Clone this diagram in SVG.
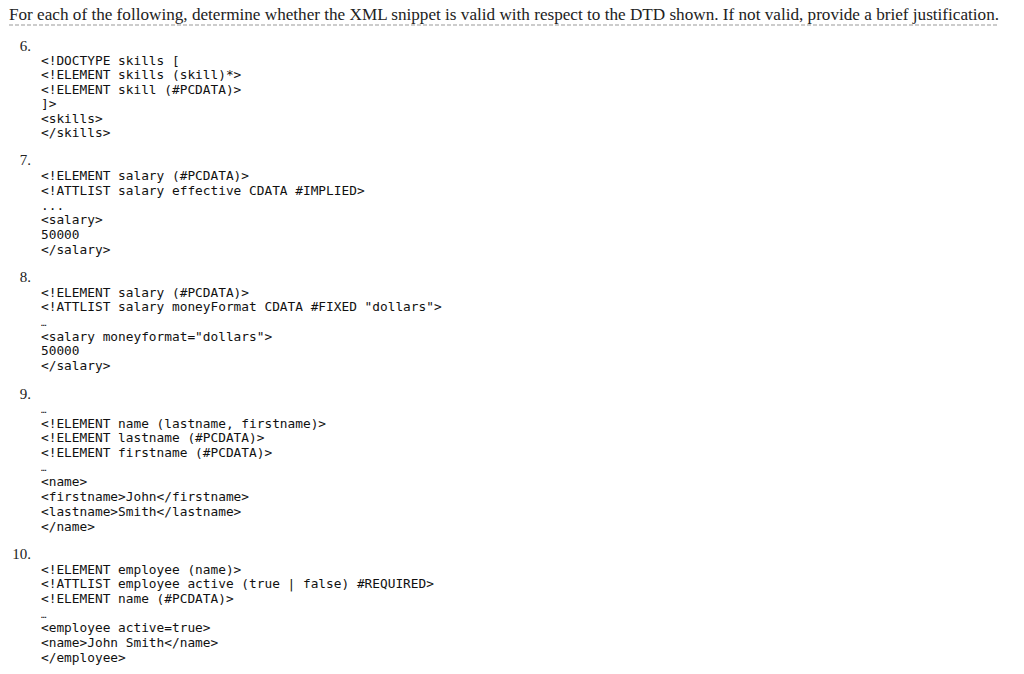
<svg xmlns="http://www.w3.org/2000/svg" width="1024" height="674" viewBox="0 0 1024 674">
<style>
.t{font-family:"Liberation Serif","DejaVu Serif",serif;font-size:16px;fill:#222}
.n{font-family:"Liberation Serif","DejaVu Serif",serif;font-size:15px;fill:#222;text-anchor:end}
.c{font-family:"DejaVu Sans Mono",monospace;font-size:12.8px;fill:#111}
</style>
<rect width="1024" height="674" fill="#fff"/>
<text class="t" x="9" y="20" textLength="990" lengthAdjust="spacingAndGlyphs">For each of the following, determine whether the XML snippet is valid with respect to the DTD shown. If not valid, provide a brief justification.</text>
<line x1="9" y1="25" x2="999" y2="25" stroke="#999" stroke-dasharray="4,2"/>
<g class="n">
<text x="31" y="51">6.</text><text x="31" y="165">7.</text><text x="31" y="282">8.</text><text x="31" y="399">9.</text><text x="31" y="559">10.</text>
</g>
<g class="c">
<text x="41" y="65">&lt;!DOCTYPE skills [</text>
<text x="41" y="79">&lt;!ELEMENT skills (skill)*&gt;</text>
<text x="41" y="94">&lt;!ELEMENT skill (#PCDATA)&gt;</text>
<text x="41" y="108">]&gt;</text>
<text x="41" y="123">&lt;skills&gt;</text>
<text x="41" y="137">&lt;/skills&gt;</text>
<text x="41" y="180">&lt;!ELEMENT salary (#PCDATA)&gt;</text>
<text x="41" y="195">&lt;!ATTLIST salary effective CDATA #IMPLIED&gt;</text>
<text x="41" y="210">...</text>
<text x="41" y="224">&lt;salary&gt;</text>
<text x="41" y="239">50000</text>
<text x="41" y="254">&lt;/salary&gt;</text>
<text x="41" y="297">&lt;!ELEMENT salary (#PCDATA)&gt;</text>
<text x="41" y="311">&lt;!ATTLIST salary moneyFormat CDATA #FIXED "dollars"&gt;</text>
<text x="41" y="326" font-size="9">…</text>
<text x="41" y="341">&lt;salary moneyformat="dollars"&gt;</text>
<text x="41" y="355">50000</text>
<text x="41" y="370">&lt;/salary&gt;</text>
<text x="41" y="413" font-size="9">…</text>
<text x="41" y="428">&lt;!ELEMENT name (lastname, firstname)&gt;</text>
<text x="41" y="442">&lt;!ELEMENT lastname (#PCDATA)&gt;</text>
<text x="41" y="457">&lt;!ELEMENT firstname (#PCDATA)&gt;</text>
<text x="41" y="471" font-size="9">…</text>
<text x="41" y="486">&lt;name&gt;</text>
<text x="41" y="501">&lt;firstname&gt;John&lt;/firstname&gt;</text>
<text x="41" y="516">&lt;lastname&gt;Smith&lt;/lastname&gt;</text>
<text x="41" y="531">&lt;/name&gt;</text>
<text x="41" y="574">&lt;!ELEMENT employee (name)&gt;</text>
<text x="41" y="588">&lt;!ATTLIST employee active (true | false) #REQUIRED&gt;</text>
<text x="41" y="603">&lt;!ELEMENT name (#PCDATA)&gt;</text>
<text x="41" y="618" font-size="9">…</text>
<text x="41" y="632">&lt;employee active=true&gt;</text>
<text x="41" y="647">&lt;name&gt;John Smith&lt;/name&gt;</text>
<text x="41" y="662">&lt;/employee&gt;</text>
</g>
</svg>
